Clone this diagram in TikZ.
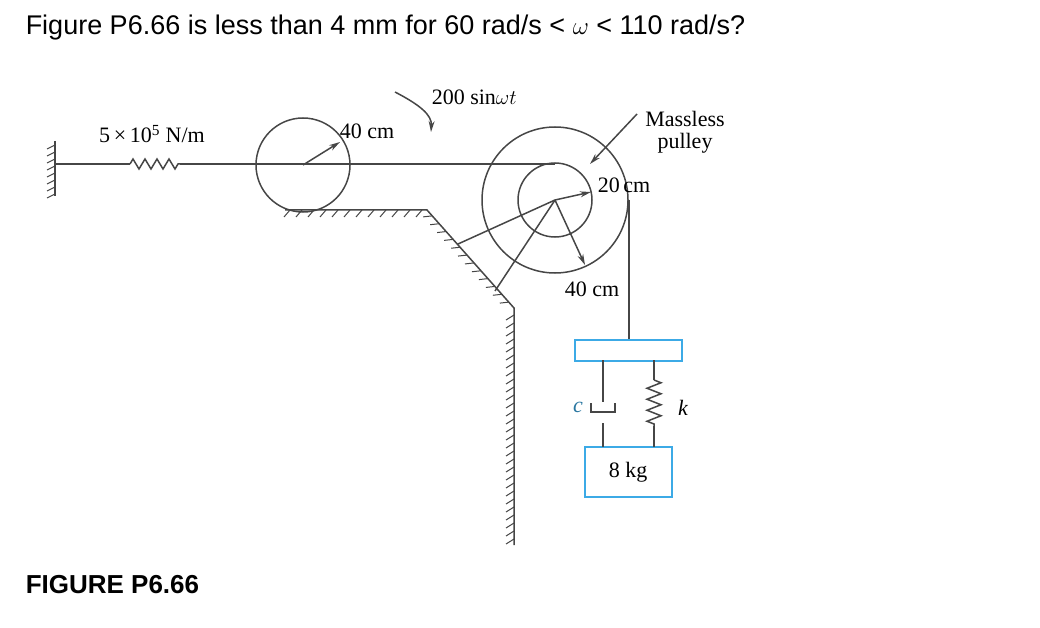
\documentclass[tikz,border=0pt]{standalone}
\usepackage{fontspec}
\setmainfont{Liberation Serif}
\newfontfamily\sans{Liberation Sans}
\usetikzlibrary{arrows.meta,decorations.pathmorphing,calc}
\definecolor{bl}{RGB}{60,170,230}
\definecolor{ln}{RGB}{70,70,70}
\begin{document}
\begin{tikzpicture}[x=1pt,y=-1pt,line width=1.5pt,
  every node/.style={inner sep=1pt},
  lbl/.style={font=\fontsize{22}{24}\selectfont},
  arr/.style={-{Stealth[length=11pt,width=6pt]}},
  spr/.style={decorate,decoration={zigzag,amplitude=7pt,segment length=11pt}},
  hat/.style={line width=1pt,draw=ln}]
\useasboundingbox (0,0) rectangle (1040,628);
\node[anchor=west,font=\sans\fontsize{27}{30}\selectfont] (title) at (24,28) {Figure P6.66 is less than 4 mm for 60 rad/s < \(\omega\) < 110 rad/s?};
\node[anchor=west,font=\sans\bfseries\fontsize{26}{28}\selectfont] (fig) at (24,585) {FIGURE P6.66};
% left wall
\draw[draw=ln] (55,141) -- (55,196);
\foreach \y in {145,152,...,196} \draw[hat] (55,\y) -- (47,\y+4);
% spring rope
\coordinate (w) at (55,164);
\coordinate (s1) at (130,164);
\coordinate (s2) at (180,164);
\draw[draw=ln] (w) -- (s1);
\draw[draw=ln,decorate,decoration={zigzag,amplitude=5pt,segment length=12pt}] (s1) -- (s2);
\node[lbl] (klab) at (152,134) {5\,\texttimes\,10\textsuperscript{5} N/m};
% disk
\node[circle,draw=ln,minimum size=94pt,inner sep=0] (disk) at (303,165) {};
\coordinate (pt) at (555,164);
\draw[draw=ln] (s2) -- (pt);
\draw[draw=ln,arr] (disk.center) -- (340,142);
\node[lbl,anchor=west] (r1) at (338,131) {40 cm};
% ground
\coordinate (g1) at (285,210);
\coordinate (g2) at (427,210);
\coordinate (g3) at (514,308);
\coordinate (g4) at (514,545);
\draw[draw=ln] (g1) -- (g2) -- (g3) -- (g4);
\foreach \x in {290,302,...,426} \draw[hat] (\x,210) -- (\x-6,217);
\foreach \t in {0.06,0.14,...,1.0} \draw[hat] ($(g2)!\t!(g3)$) -- ++(-9,1);
\foreach \y in {315,323,...,545} \draw[hat] (514,\y) -- (506,\y+5);
% pulley
\coordinate (pc) at (555,200);
\node[circle,draw=ln,minimum size=146pt,inner sep=0] (outer) at (pc) {};
\node[circle,draw=ln,minimum size=74pt,inner sep=0] (inner) at (pc) {};
\coordinate (b1) at (458,244);
\coordinate (b2) at (495,291);
\draw[draw=ln] (pc) -- (b1);
\draw[draw=ln] (pc) -- (b2);
\draw[draw=ln,arr] (pc) -- (591,192);
\draw[draw=ln,arr] (pc) -- (585,265);
\node[lbl,anchor=west] (r2) at (596,185) {20\,cm};
\node[lbl] (r3) at (592,289) {40 cm};
\node[lbl,align=center] (ml) at (685,132) {Massless\\[-2pt]pulley};
\draw[draw=ln,arr] (637,114) -- (590,164);
% force
\draw[draw=ln,arr] (395,92) .. controls (420,105) and (432,115) .. (431,132);
\node[lbl,anchor=west] (f) at (430,97) {200 sin\(\omega t\)};
% hanging system
\node[draw=bl,line width=2pt,minimum width=107pt,minimum height=21pt,inner sep=0] (plate) at (628,350) {};
\coordinate (rt) at (629,200);
\draw[draw=ln] (rt) -- (plate.north -| rt);
\node[draw=bl,line width=2pt,minimum width=87pt,minimum height=50pt,inner sep=0,font=\fontsize{22}{24}\selectfont] (mass) at (628,472) {8 kg};
% damper
\draw[draw=ln] (603,360) -- (603,402);
\draw[draw=ln] (591,403) -- (591,412) -- (615,412) -- (615,403);
\draw[draw=ln] (603,423) -- (603,447);
\node[lbl,text=bl!70!black,font=\itshape\fontsize{22}{24}\selectfont] (c) at (578,407) {c};
% spring
\draw[draw=ln] (654,360) -- (654,380);
\draw[draw=ln,spr] (654,380) -- (654,426);
\draw[draw=ln] (654,426) -- (654,447);
\node[lbl,font=\itshape\fontsize{22}{24}\selectfont] (k) at (683,408) {k};
\end{tikzpicture}
\end{document}
